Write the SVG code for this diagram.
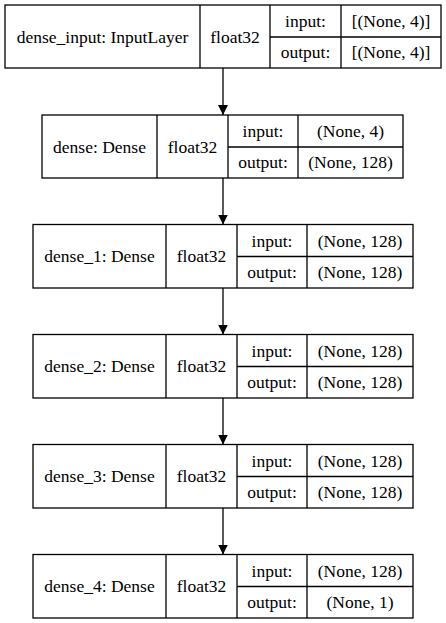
<svg xmlns="http://www.w3.org/2000/svg" width="446" height="623" viewBox="0 0 446 623">
<style>
.b{fill:#fff;stroke:#000;stroke-width:1.3}
.l{stroke:#000;stroke-width:1.3;fill:none}
text{font-size:17.5px;fill:#000;text-anchor:middle}
.c{stroke:#000;stroke-width:1.3;fill:none}
</style>
<defs>
<marker id="ah" markerWidth="10" markerHeight="10" refX="10" refY="5" orient="auto" markerUnits="userSpaceOnUse">
<path d="M0,0 L10,5 L0,10 Z" fill="#000"/>
</marker>
</defs>
<rect width="446" height="623" fill="#fff"/>
<g id="connectors">
<line class="c" x1="223" y1="68" x2="223" y2="115" marker-end="url(#ah)"/>
<line class="c" x1="223" y1="178" x2="223" y2="224.5" marker-end="url(#ah)"/>
<line class="c" x1="223" y1="288" x2="223" y2="334.5" marker-end="url(#ah)"/>
<line class="c" x1="223" y1="398" x2="223" y2="444.5" marker-end="url(#ah)"/>
<line class="c" x1="223" y1="508" x2="223" y2="554.5" marker-end="url(#ah)"/>
</g>
<g id="dense_input" font-family="Liberation Serif, DejaVu Serif, serif">
<rect class="b" x="5" y="5" width="436" height="63"/>
<path class="l" d="M200,5V68M270,5V68M341,5V68M270,37H441"/>
<text x="102.5" y="42.5">dense_input: InputLayer</text>
<text x="235" y="42.5">float32</text>
<text x="305.5" y="27">input:</text>
<text x="305.5" y="58">output:</text>
<text x="391" y="27">[(None, 4)]</text>
<text x="391" y="58">[(None, 4)]</text>
</g>
<g id="dense" font-family="Liberation Serif, DejaVu Serif, serif">
<rect class="b" x="42" y="115" width="361" height="63"/>
<path class="l" d="M157,115V178M228,115V178M298,115V178M228,147H403"/>
<text x="99.5" y="152.5">dense: Dense</text>
<text x="192.5" y="152.5">float32</text>
<text x="263" y="137">input:</text>
<text x="263" y="168">output:</text>
<text x="350.5" y="137">(None, 4)</text>
<text x="350.5" y="168">(None, 128)</text>
</g>
<g id="dense_1" font-family="Liberation Serif, DejaVu Serif, serif">
<rect class="b" x="33" y="224.5" width="380" height="63.5"/>
<path class="l" d="M166,224.5V288M237,224.5V288M307,224.5V288M237,256.5H413"/>
<text x="99.5" y="262">dense_1: Dense</text>
<text x="201.5" y="262">float32</text>
<text x="272" y="246.5">input:</text>
<text x="272" y="277.5">output:</text>
<text x="360" y="246.5">(None, 128)</text>
<text x="360" y="277.5">(None, 128)</text>
</g>
<g id="dense_2" font-family="Liberation Serif, DejaVu Serif, serif">
<rect class="b" x="33" y="334.5" width="380" height="63.5"/>
<path class="l" d="M166,334.5V398M237,334.5V398M307,334.5V398M237,366.5H413"/>
<text x="99.5" y="372">dense_2: Dense</text>
<text x="201.5" y="372">float32</text>
<text x="272" y="356.5">input:</text>
<text x="272" y="387.5">output:</text>
<text x="360" y="356.5">(None, 128)</text>
<text x="360" y="387.5">(None, 128)</text>
</g>
<g id="dense_3" font-family="Liberation Serif, DejaVu Serif, serif">
<rect class="b" x="33" y="444.5" width="380" height="63.5"/>
<path class="l" d="M166,444.5V508M237,444.5V508M307,444.5V508M237,476.5H413"/>
<text x="99.5" y="482">dense_3: Dense</text>
<text x="201.5" y="482">float32</text>
<text x="272" y="466.5">input:</text>
<text x="272" y="497.5">output:</text>
<text x="360" y="466.5">(None, 128)</text>
<text x="360" y="497.5">(None, 128)</text>
</g>
<g id="dense_4" font-family="Liberation Serif, DejaVu Serif, serif">
<rect class="b" x="33" y="554.5" width="380" height="63.5"/>
<path class="l" d="M166,554.5V618M237,554.5V618M307,554.5V618M237,586.5H413"/>
<text x="99.5" y="592">dense_4: Dense</text>
<text x="201.5" y="592">float32</text>
<text x="272" y="576.5">input:</text>
<text x="272" y="607.5">output:</text>
<text x="360" y="576.5">(None, 128)</text>
<text x="360" y="607.5">(None, 1)</text>
</g>
</svg>
